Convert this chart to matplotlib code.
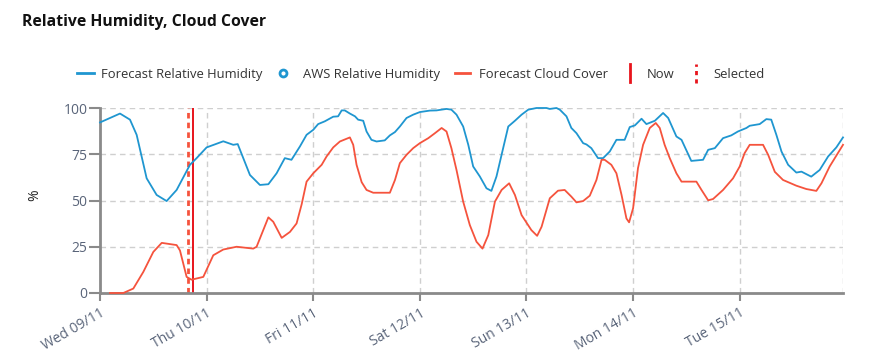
import datetime as dt

import matplotlib
matplotlib.use("Agg")
import matplotlib.pyplot as plt
from matplotlib.lines import Line2D

plt.rcParams['font.family'] = ['Open Sans', 'DejaVu Sans']

START = dt.datetime(2022, 11, 9, 0, 0)
END_HOURS = 167.25

# hours since Wed 09/11 00:00, value in %
rh_hours = [0, 4.5, 6.75, 8.25, 10.5, 12.75, 15, 17.25, 20.25, 21.75, 24, 27.75, 30, 31,
            33.75, 36, 37.9, 39.75, 41.6, 43.1, 45, 46.5, 48, 49.1, 50.6, 52.5, 53.6, 54.4,
            55.1, 56.25, 57.4, 58.1, 59.25, 60, 61.1, 62.25, 64.1, 65.25, 66.4, 67.5, 69,
            70.5, 72, 74.25, 75.75, 78, 79.1, 80.25, 81.75, 82.9, 84, 85.5, 87, 88.1, 89.25,
            90.75, 91.9, 93.4, 94.9, 96.4, 98.25, 100.5, 101.25, 102.75, 103.5, 105, 106.1,
            107.25, 108.75, 109.5, 110.6, 112.1, 113.25, 114.75, 116.25, 118.1, 119.25,
            120.4, 121.9, 123, 124.9, 126.75, 127.9, 129.75, 130.9, 133.1, 135.75, 136.9,
            138.4, 140.25, 142.1, 143.6, 145.5, 146.25, 148.5, 150, 151.1, 152.25, 153.4,
            154.9, 156.75, 157.9, 160.1, 162, 163.9, 165.75, 167.25]
rh_values = [92.2, 97, 93.7, 85.5, 62, 53, 49.7, 55.7, 69.3, 72.9, 78.7, 82, 80.1, 80.5,
             63.8, 58.4, 58.8, 64.7, 72.9, 72, 79.2, 85.5, 88.2, 91.3, 92.8, 95.3, 95.5, 98.7,
             98.7, 97, 95.5, 93.7, 93.1, 87.3, 82.8, 81.9, 82.5, 85.2, 87, 90, 94.6,
             96.4, 97.8, 98.6, 98.7, 99.5, 99.1, 96.4, 90, 80.1, 68.4, 63, 56.6, 55.2, 63,
             78.3, 90, 93.1, 96.4, 99.1, 100, 100, 99.5, 100, 99.1, 95.5, 89.2,
             86.4, 81, 80.3, 78.3, 72.9, 72.9, 76.5, 82.8, 82.8, 89.7,
             90.6, 94.2, 91.3, 93.1, 97.3, 94.6, 84.6, 82.8, 71.4, 72, 77.4,
             78.3, 83.7, 85.2, 87.3, 89.2, 90.4, 91.3, 94, 93.7, 85.5, 76.5,
             69.3, 65.1, 65.6, 62.9, 66.5, 73.8, 78.7, 84.1]

cloud_hours = [2.25, 5.25, 7.5, 9.75, 12, 13.9, 17.25, 18, 19.5, 20.6, 23.25, 25.5, 27.75,
               30.75, 34.5, 35.25, 37.9, 39, 40.9, 42.75, 44.25, 45.4, 46.5, 48, 49.9, 51,
               52.5, 54, 56.25, 57, 57.75, 58.9, 60, 61.5, 65.25, 66.4, 67.5, 69, 70.5, 72,
               73.9, 75.4, 76.9, 78, 79.1, 80.25, 81.75, 83.25, 84.75, 86.1, 87.4, 88.9,
               90.4, 92.1, 93.4, 94.9, 97.1, 98.4, 99.4, 101.25, 103.1, 104.6, 106.1,
               107.25, 108.75, 110.25, 111.75, 112.9, 113.6, 115.1, 116.25, 117.4, 118.5,
               119.1, 120, 121.1, 122.25, 123.75, 125.1, 126, 127.1, 128.25, 129.75, 130.9,
               134.25, 135.4, 136.9, 138, 140.25, 142.5, 144, 145.1, 146.25, 149.25, 150.4,
               151.9, 153.75, 156.75, 159, 161.25, 162.4, 164.25, 167.25]
cloud_values = [0, 0, 2.4, 11.4, 22.2, 27.1, 25.9, 23, 8.7, 7.2, 8.7, 20.4, 23.5,
                25, 24, 25, 40.9, 38.5, 29.8, 33, 37.6, 48, 60.2, 64.7, 69.3, 73.8,
                78.7, 81.9, 84.1, 80.1, 69.3, 59.9, 55.7, 54.2, 54.2, 61.1, 70.2, 74.7, 78.3, 81,
                83.7, 86.4, 89.2, 87.3, 78.3, 66.5, 49.4, 36.7, 27.7, 24, 31.3, 49.4,
                55.7, 59.3, 53, 42.1, 34, 30.9, 35.8, 51.2, 55.3, 55.7, 52.1,
                49, 49.7, 52.6, 61.1, 72, 72, 69.3, 64.7, 53, 40.3,
                38.2, 45.8, 67.5, 80.1, 89.2, 91.9, 89.2, 80.1, 72.9, 64.7, 60.2,
                60.2, 55.7, 50.1, 50.8, 55.7, 62, 68.4, 75.6, 80.1, 80.1, 74.7,
                65.5, 61.1, 58, 56.2, 55.2, 59.3, 68.4, 80.1]

now_hour = 20.9
selected_hour = 19.8
day_labels = ['Wed 09/11', 'Thu 10/11', 'Fri 11/11', 'Sat 12/11', 'Sun 13/11',
              'Mon 14/11', 'Tue 15/11']
legend_labels = ['Forecast Relative Humidity', 'AWS Relative Humidity',
                 'Forecast Cloud Cover', 'Now', 'Selected']

BLUE = '#1f96d0'
RED = '#f5533d'
NOW_RED = '#e8141c'
TICK = '#596479'
AXIS = '#8a8a8a'
GRID = '#cfcfcf'

W, H = 872, 362


def to_time(hours):
    return [START + dt.timedelta(hours=h) for h in hours]


def fx(px):
    return px / W


def fy(py):
    return 1 - py / H


fig = plt.figure(figsize=(W / 100, H / 100), dpi=100)
ax = fig.add_axes([fx(100), fy(293), 743 / W, 185 / H])

ax.plot(to_time(rh_hours), rh_values, color=BLUE, lw=1.3, clip_on=False, zorder=3,
        solid_joinstyle='round')
ax.plot(to_time(cloud_hours), cloud_values, color=RED, lw=1.3, clip_on=False, zorder=3,
        solid_joinstyle='round')
ax.axvline(to_time([selected_hour])[0], color=RED, lw=2, ls=(0, (2, 1.5)), zorder=2)
ax.axvline(to_time([now_hour])[0], color=NOW_RED, lw=1.4, zorder=2)

day_ticks = to_time([24 * i for i in range(len(day_labels))])
ax.set_xlim(START, to_time([END_HOURS])[0])
ax.set_ylim(0, 100)
ax.set_xticks(day_ticks)
ax.set_xticklabels(day_labels, rotation=30, ha='right', rotation_mode='anchor')
ax.set_yticks([0, 25, 50, 75, 100])

for t in day_ticks[1:] + [to_time([END_HOURS])[0]]:
    ax.axvline(t, color=GRID, lw=1, ls=(0, (4, 3)), zorder=1)
for v in [25, 50, 75, 100]:
    ax.axhline(v, color=GRID, lw=1, ls=(0, (4, 3)), zorder=1)

for side in ['top', 'right']:
    ax.spines[side].set_visible(False)
for side in ['left', 'bottom']:
    ax.spines[side].set_color(AXIS)
    ax.spines[side].set_linewidth(2)
ax.tick_params(axis='both', colors=AXIS, width=1.5, length=8, labelsize=10,
               labelcolor=TICK, pad=1)
ax.tick_params(axis='x', length=6, pad=3)

fig.text(fx(35), fy(195), '%', fontsize=10, color='#222222', rotation=90,
         ha='center', va='center')

fig.text(fx(22), fy(22), 'Relative Humidity, Cloud Cover', fontsize=11.3,
         fontweight='bold', color='#111111', va='center', ha='left')

# legend, laid out by hand to match the reference spacing
leg_y = fy(73)
fig.add_artist(Line2D([fx(77), fx(94)], [leg_y, leg_y], color=BLUE, lw=2))
fig.add_artist(Line2D([fx(283)], [leg_y], color=BLUE, lw=0, marker='o', markersize=5,
                      markerfacecolor='white', markeredgewidth=2))
fig.add_artist(Line2D([fx(455), fx(470)], [leg_y, leg_y], color=RED, lw=2))
fig.add_artist(Line2D([fx(630), fx(630)], [fy(82), fy(64)], color=NOW_RED, lw=2))
fig.add_artist(Line2D([fx(696), fx(696)], [fy(83), fy(64)], color=NOW_RED, lw=2,
                      ls=(0, (1.5, 1.5))))
for x0, label in zip([101, 303, 479, 647, 713], legend_labels):
    fig.text(fx(x0), leg_y, label, fontsize=9.4, color='#333333', ha='left',
             va='center_baseline')

fig.savefig('out.png', dpi=100)
